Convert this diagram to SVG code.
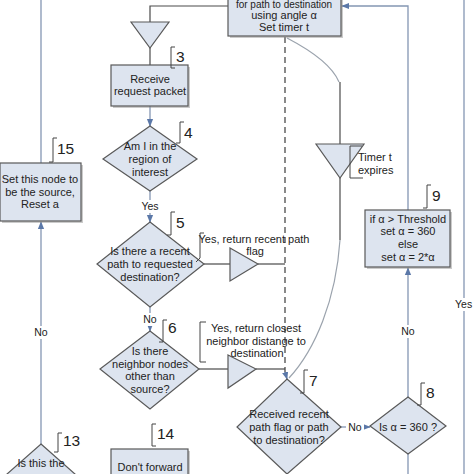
<svg xmlns="http://www.w3.org/2000/svg" width="474" height="474" viewBox="0 0 474 474">
<style>
.shape{fill:#dde4ef;stroke:#595959;stroke-width:1.2}
.sh{fill:#8c8c8c;opacity:0.45}
.t{font-family:"Liberation Sans",Arial,sans-serif;font-size:11px;fill:#222;text-anchor:middle}
.n{font-family:"Liberation Sans",Arial,sans-serif;font-size:15.5px;fill:#222}
.lbl{font-family:"Liberation Sans",Arial,sans-serif;font-size:10.5px;fill:#222;text-anchor:middle}
.br{fill:none;stroke:#444;stroke-width:1}
.blue{fill:none;stroke:#8496b3;stroke-width:1.3}
.dark{fill:none;stroke:#4a4a4a;stroke-width:1.2}
.curve{fill:none;stroke:#9ba3ad;stroke-width:1.2}
.dash{fill:none;stroke:#4a4a4a;stroke-width:1.3;stroke-dasharray:6,4}
</style>
<defs>
<marker id="ah" viewBox="0 0 10 10" refX="9" refY="5" markerWidth="6" markerHeight="6" orient="auto">
<path d="M0,1 L10,5 L0,9 Z" fill="#5b78a8"/>
</marker>
</defs>
<rect width="474" height="474" fill="#ffffff"/>

<g id="connectors">
<line class="blue" x1="41" y1="0" x2="41" y2="163"/>
<line class="blue" x1="41" y1="444" x2="41" y2="222" marker-end="url(#ah)"/>
<polyline class="dark" points="228,6 150,6 150,22"/>
<line class="dark" x1="150" y1="48" x2="150" y2="65"/>
<line class="blue" x1="150" y1="106" x2="150" y2="126" marker-end="url(#ah)"/>
<line class="blue" x1="150" y1="191" x2="150" y2="222" marker-end="url(#ah)"/>
<line class="blue" x1="150" y1="307" x2="150" y2="331" marker-end="url(#ah)"/>
<line class="dark" x1="204" y1="264" x2="230" y2="264"/>
<line class="dark" x1="258" y1="264" x2="285" y2="264"/>
<line class="dark" x1="199" y1="369" x2="228" y2="369"/>
<line class="dark" x1="256" y1="369" x2="285" y2="369"/>
<line class="dash" x1="285" y1="37" x2="285" y2="372"/>
<line class="blue" x1="285" y1="372" x2="287" y2="379" marker-end="url(#ah)"/>
<path class="curve" d="M287,38 C310,50 332,65 339,82"/>
<line class="dark" x1="340" y1="82" x2="340" y2="144"/>
<line class="dark" x1="340" y1="178" x2="340" y2="240"/>
<path class="curve" d="M340,240 C336,300 315,350 289,378"/>
<line class="blue" x1="341" y1="427" x2="370" y2="427" marker-end="url(#ah)"/>
<line class="blue" x1="408" y1="397" x2="408" y2="268" marker-end="url(#ah)"/>
<line class="blue" x1="408" y1="454" x2="408" y2="474"/>
<polyline class="blue" points="408,210 408,6 342,6" marker-end="url(#ah)"/>
<line class="blue" x1="464" y1="0" x2="464" y2="474"/>
<rect x="139" y="200" width="22" height="13" fill="#fff"/>
<text class="lbl" x="150" y="210">Yes</text>
<rect x="141" y="313" width="18" height="13" fill="#fff"/>
<text class="lbl" x="150" y="323">No</text>
<rect x="32" y="326" width="18" height="13" fill="#fff"/>
<text class="lbl" x="41" y="336">No</text>
<rect x="399" y="325" width="18" height="13" fill="#fff"/>
<text class="lbl" x="408" y="335">No</text>
<rect x="346" y="421" width="18" height="12" fill="#fff"/>
<text class="lbl" x="355" y="431">No</text>
<rect x="454" y="298" width="20" height="13" fill="#fff"/>
<text class="lbl" x="455" y="308" style="text-anchor:start">Yes</text>
</g>

<g id="node-top">
<rect class="sh" x="230" y="-30" width="113" height="68"/>
<rect class="shape" x="228" y="-32" width="113" height="68"/>
<text class="t" x="284" y="8" style="font-size:10px">for path to destination</text>
<text class="t" x="284" y="19">using angle α</text>
<text class="t" x="284" y="31">Set timer t</text>
</g>

<g id="node-tri-top">
<polygon class="shape" points="131,22 169,22 150,48"/>
</g>

<g id="node-3">
<rect class="sh" x="113" y="67" width="77" height="41"/>
<rect class="shape" x="111" y="65" width="77" height="41"/>
<text class="t" x="150" y="83">Receive</text>
<text class="t" x="150" y="95">request packet</text>
<path class="br" d="M175,47 H171 V68 H175"/>
<text class="n" x="176" y="62">3</text>
</g>

<g id="node-4">
<polygon class="shape" points="150,126 197,159 150,191 103,159"/>
<text class="t" x="150" y="150">Am I in the</text>
<text class="t" x="150" y="163">region of</text>
<text class="t" x="150" y="176">interest</text>
<path class="br" d="M184,122 H180 V143 H176"/>
<text class="n" x="184" y="138">4</text>
</g>

<g id="node-5">
<polygon class="shape" points="150,222 204,264 150,307 97,264"/>
<text class="t" x="150" y="255">Is there a recent</text>
<text class="t" x="150" y="268">path to requested</text>
<text class="t" x="150" y="281">destination?</text>
<path class="br" d="M175,212 H171 V235 H167"/>
<text class="n" x="176" y="228">5</text>
</g>

<g id="node-tri-5">
<polygon class="shape" points="230,248 258,264 230,281"/>
<path class="br" d="M204,233 H200 V258 L196,262"/>
<text class="t" x="254" y="243">Yes, return recent path</text>
<text class="t" x="255" y="255">flag</text>
</g>

<g id="node-6">
<polygon class="shape" points="150,331 199,369 150,409 100,369"/>
<text class="t" x="150" y="355">Is there</text>
<text class="t" x="150" y="368">neighbor nodes</text>
<text class="t" x="150" y="380">other than</text>
<text class="t" x="150" y="393">source?</text>
<path class="br" d="M167,320 H163 V342 H159"/>
<text class="n" x="168" y="333">6</text>
</g>

<g id="node-tri-6">
<polygon class="shape" points="228,355 256,369 228,388"/>
<path class="br" d="M206,322 H200 V362 H206"/>
<text class="t" x="256" y="332">Yes, return closest</text>
<text class="t" x="256" y="345">neighbor distange to</text>
<text class="t" x="257" y="357">destination</text>
</g>

<g id="node-timer">
<polygon class="shape" points="316,144 364,144 340,178"/>
<path class="br" d="M362,146 H350 V178 H363"/>
<text class="t" x="358" y="161" style="text-anchor:start">Timer t</text>
<text class="t" x="358" y="174" style="text-anchor:start">expires</text>
</g>

<g id="node-7">
<polygon class="shape" points="287,379 341,427 287,474 237,427"/>
<text class="t" x="289" y="418">Received recent</text>
<text class="t" x="289" y="431">path flag or  path</text>
<text class="t" x="289" y="444">to destination?</text>
<path class="br" d="M308,370 H304 V393 H300"/>
<text class="n" x="309" y="386">7</text>
</g>

<g id="node-8">
<polygon class="shape" points="408,397 446,426 408,454 370,426"/>
<text class="t" x="408" y="431">Is α = 360 ?</text>
<path class="br" d="M425,383 H421 V405 H417"/>
<text class="n" x="426" y="398">8</text>
</g>

<g id="node-9">
<rect class="sh" x="367" y="212" width="85" height="57"/>
<rect class="shape" x="365" y="210" width="85" height="57"/>
<text class="t" x="408" y="223">if α &gt; Threshold</text>
<text class="t" x="408" y="235">set α = 360</text>
<text class="t" x="408" y="248">else</text>
<text class="t" x="408" y="261">set α = 2*α</text>
<path class="br" d="M431,185 H427 V208 H423"/>
<text class="n" x="432" y="201">9</text>
</g>

<g id="node-15">
<rect class="sh" x="2" y="165" width="81" height="58"/>
<rect class="shape" x="0" y="163" width="81" height="58"/>
<text class="t" x="40" y="183">Set this node to</text>
<text class="t" x="40" y="196">be the source,</text>
<text class="t" x="40" y="208">Reset a</text>
<path class="br" d="M57,138 H53 V162 H49"/>
<text class="n" x="57" y="154">15</text>
</g>

<g id="node-13">
<polygon class="shape" points="41,444 84,482 41,520 -2,482"/>
<text class="t" x="41" y="467">Is this the</text>
<path class="br" d="M62,433 H58 V452 H54"/>
<text class="n" x="63" y="446">13</text>
</g>

<g id="node-14">
<rect class="sh" x="113" y="451" width="77" height="40"/>
<rect class="shape" x="111" y="449" width="77" height="40"/>
<text class="t" x="150" y="471">Don't forward</text>
<path class="br" d="M156,424 H152 V446 H156"/>
<text class="n" x="157" y="439">14</text>
</g>
</svg>
